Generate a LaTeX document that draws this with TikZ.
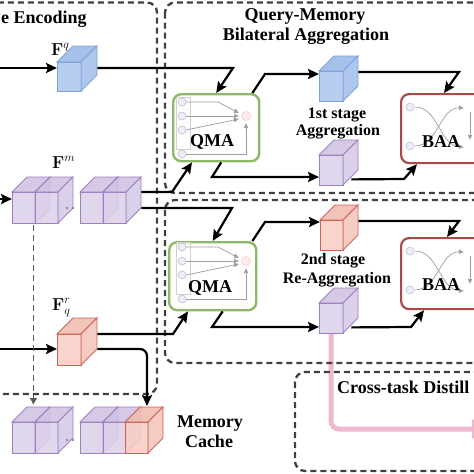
\documentclass[tikz,border=0pt]{standalone}
\usepackage[no-math]{fontspec}
\setmainfont{Liberation Serif}
\usetikzlibrary{arrows.meta,calc}
\definecolor{bluef}{RGB}{172,198,238}
\definecolor{bluet}{RGB}{152,182,230}
\definecolor{blues}{RGB}{162,190,234}
\definecolor{blueb}{RGB}{128,162,218}
\definecolor{purf}{RGB}{220,208,234}
\definecolor{purt}{RGB}{206,192,226}
\definecolor{purs}{RGB}{213,200,230}
\definecolor{purb}{RGB}{158,128,190}
\definecolor{redf}{RGB}{247,206,196}
\definecolor{redt}{RGB}{239,186,174}
\definecolor{reds}{RGB}{243,196,186}
\definecolor{redb}{RGB}{208,98,84}
\definecolor{qmagreen}{RGB}{140,186,104}
\definecolor{baared}{RGB}{172,72,72}
\definecolor{pinkline}{RGB}{237,184,208}
\definecolor{dashgrey}{RGB}{64,64,64}
\newcommand{\drawcube}[7]{%
  \filldraw[cubeline, draw=#4b, fill=#4f] (#2,#3) rectangle ++(#5,#6);
  \filldraw[cubeline, draw=#4b, fill=#4t] (#2,#3) -- ++(#7,-#7) -- ++(#5,0) -- ++(-#7,#7) -- cycle;
  \filldraw[cubeline, draw=#4b, fill=#4s] (#2+#5,#3) -- ++(#7,-#7) -- ++(0,#6) -- ++(-#7,#7) -- cycle;
  \node[inner sep=0, minimum width=#5pt, minimum height=#6pt, anchor=north west] (#1) at (#2,#3) {};
}
\newcommand{\qmainner}[2]{%
  \begin{scope}[shift={(#1,#2)}]
    \draw[draw=black!18, line width=0.6pt] (-6,-5) rectangle (8,47);
    \draw[innerarr] (4,0) -- (36,0) -- (57,11);
    \draw[innerarr] (4,14) -- (57,14);
    \draw[innerarr] (4,28) -- (57,17);
    \draw[innerarr] (4,52) -- (64,52) -- (64,21);
    \foreach \yy in {0,14,28,52} \filldraw[incirc] (0,\yy) circle (4);
    \filldraw[draw=red!20, fill=red!8, line width=0.6pt] (64,14) circle (4.5);
  \end{scope}}
\newcommand{\baainner}[2]{%
  \begin{scope}[shift={(#1,#2)}]
    \draw[innerarr] (15,14) .. controls (38,14) and (40,53) .. (64,54);
    \draw[innerarr] (15,53) .. controls (38,53) and (40,14) .. (64,15);
    \draw[innerarr] (70,19) -- (70,47);
    \filldraw[incirc] (10,14) circle (4);
    \filldraw[incirc] (10,53) circle (4);
  \end{scope}}
\begin{document}
\begin{tikzpicture}[x=1pt,y=-1pt,
  arr/.style={draw=black, line width=2.2pt, -{Stealth[length=11pt,width=10pt,inset=2pt]}},
  dashbox/.style={draw=dashgrey, line width=2.3pt, dash pattern=on 6pt off 4pt, rounded corners=10pt},
  cubeline/.style={line width=0.9pt, fill opacity=0.85},
  qmabox/.style={draw=qmagreen, line width=2.4pt, rounded corners=8pt, fill=white, inner sep=0},
  baabox/.style={draw=baared, line width=2.2pt, rounded corners=8pt, fill=white, inner sep=0},
  ttl/.style={font=\fontsize{18}{20}\selectfont\bfseries, inner sep=0},
  stglbl/.style={font=\fontsize{16}{18}\selectfont\bfseries, inner sep=0},
  mathlbl/.style={font=\fontsize{18}{20}\selectfont, inner sep=0},
  innerarr/.style={draw=black!38, line width=0.7pt, -{Latex[length=5pt,width=5pt]}},
  incirc/.style={draw=black!25, fill=blue!7, line width=0.6pt},
  dasharr/.style={draw=black!65, line width=1.8pt, dash pattern=on 6pt off 4pt, -{Latex[length=7pt,width=8pt]}},
  pinkarr/.style={draw=pinkline, line width=5pt, rounded corners=8pt, -{Latex[length=14pt,width=22pt]}}]
\useasboundingbox (0,0) rectangle (474,474);
\clip (0,0) rectangle (474,474);
\fill[white] (0,0) rectangle (474,474);

% distillation arrow (pink)
\coordinate (pinkstart) at (331,333);
\coordinate (pinkend) at (486,429);
\draw[pinkarr] (pinkstart) -- (331,429) -- (pinkend);

% dashed group boxes
\draw[dashbox] (-20,2.5) rectangle (157,394);
\draw[dashbox] (165,2.5) rectangle (520,193);
\draw[dashbox] (165,200) rectangle (520,363);
\draw[dashbox] (295,372) rectangle (520,471);

% QMA and BAA modules
\node[qmabox, minimum width=86pt, minimum height=67pt, anchor=north west] (qma1) at (172,93) {};
\node[qmabox, minimum width=87pt, minimum height=68pt, anchor=north west] (qma2) at (168,241) {};
\node[baabox, minimum width=100pt, minimum height=69pt, anchor=north west] (baa1) at (400,93) {};
\node[baabox, minimum width=100pt, minimum height=71pt, anchor=north west] (baa2) at (400,237) {};
\qmainner{182}{102}
\qmainner{182}{247}
\baainner{400}{93}
\baainner{400}{237}

% cubes
\drawcube{fq}{57}{62}{blue}{24}{29}{16}
\drawcube{fma}{12}{192}{pur}{23}{31}{15}
\drawcube{fmb}{35}{192}{pur}{23}{31}{15}
\drawcube{fmc}{80}{192}{pur}{23}{31}{15}
\drawcube{fmd}{103}{192}{pur}{23}{31}{15}
\drawcube{fqr}{57}{334}{red}{24}{31}{16}
\drawcube{sa}{319}{71}{blue}{24}{30}{15}
\drawcube{sb}{319}{155}{pur}{24}{30}{15}
\drawcube{sc}{320}{220}{red}{23}{30}{15}
\drawcube{sd}{319}{303}{pur}{24}{30}{15}
\drawcube{mca}{12}{422}{pur}{23}{31}{15}
\drawcube{mcb}{35}{422}{pur}{23}{31}{15}
\drawcube{mcc}{80}{422}{pur}{23}{31}{15}
\drawcube{mcd}{103}{422}{pur}{23}{31}{15}
\drawcube{mce}{125}{422}{red}{23}{31}{15}
\foreach \xx in {67,73} {\fill[black!55] (\xx,208) circle (1.2); \fill[black!55] (\xx,440) circle (1.2);}

% input arrows
\coordinate (inq) at (0,68);
\coordinate (inm) at (0,199);
\coordinate (inr) at (0,349);
\draw[arr] (inq) -- ($(fq.north west)+(0,6)$);
\draw[arr] (inm) -- ($(fma.north west)+(0,7)$);
\draw[arr] (inr) -- ($(fqr.north west)+(0,15)$);

% connectors
\draw[arr] ($(fq.north east)+(16,6)$) -- (233,68) -- (qma1.north);
\draw[arr] ($(qma1.north east)+(-8,0)$) -- (265,74) -- ($(sa.north west)+(0,3)$);
\draw[arr] ($(sa.north east)+(15,1)$) -- (459,72) -- ($(baa1.north west)+(44,0)$);
\draw[arr] ($(qma1.south)+(5,0)$) -- (212,177) -- ($(sb.north west)+(0,22)$);
\draw[arr] ($(sb.south east)+(8,-6)$) -- (404,179) -- ($(baa1.south west)+(17,0)$);
\draw[arr] ($(fmd.north east)+(15,0)$) -- (172,192) -- ($(qma1.south west)+(20,0)$);
\draw[arr] ($(fmd.north east)+(15,16)$) -- (232,208) -- (qma2.north);
\draw[arr] ($(qma2.north east)+(-5,0)$) -- (265,222) -- ($(sc.north west)+(0,2)$);
\draw[arr] ($(sc.north east)+(15,1)$) -- (459,221) -- ($(baa2.north west)+(47,0)$);
\draw[arr] ($(qma2.south)+(10,0)$) -- (212,327) -- ($(sd.north west)+(0,24)$);
\draw[arr] ($(sd.south east)+(8,-6)$) -- (411,327) -- ($(baa2.south west)+(24,0)$);
\draw[arr] ($(fqr.north east)+(16,0)$) -- (173,334) -- ($(qma2.south west)+(20,0)$);
\draw[arr, rounded corners=7pt] ($(fqr.north east)+(16,15)$) -- (147,349) -- ($(mce.north west)+(22,-16)$);
\draw[dasharr] ($(fma.south east)+(-2,2)$) -- ($(mca.north east)+(-2,-17)$);

% texts
\node[ttl, anchor=base west] (tenc) at (1,23) {e Encoding};
\node[ttl, anchor=base] (tqm1) at (305,20) {Query-Memory};
\node[ttl, anchor=base] (tqm2) at (306,40) {Bilateral Aggregation};
\node[stglbl, anchor=base] (st1a) at (337,118) {1st stage};
\node[stglbl, anchor=base] (st1b) at (338,135) {Aggregation};
\node[stglbl, anchor=base] (st2a) at (333,264) {2nd stage};
\node[stglbl, anchor=base] (st2b) at (337,283) {Re-Aggregation};
\node[ttl, anchor=base] (tqma1) at (212,146) {QMA};
\node[ttl, anchor=base] (tqma2) at (210,292) {QMA};
\node[ttl, anchor=base] (tbaa1) at (441,147) {BAA};
\node[ttl, anchor=base] (tbaa2) at (441,290) {BAA};
\node[ttl, anchor=base] (tmem) at (210,427) {Memory};
\node[ttl, anchor=base] (tcache) at (209,447) {Cache};
\node[ttl, anchor=base west] (tcross) at (337,393) {Cross-task Distill};
\node[mathlbl, anchor=base west] (lfq) at (51,55) {$\mathbf{F}^{q}$};
\node[mathlbl, anchor=base west] (lfm) at (52,168) {$\mathbf{F}^{m}$};
\node[mathlbl, anchor=base west] (lfr) at (52,310) {$\mathbf{F}^{r}_{q}$};
\end{tikzpicture}
\end{document}
